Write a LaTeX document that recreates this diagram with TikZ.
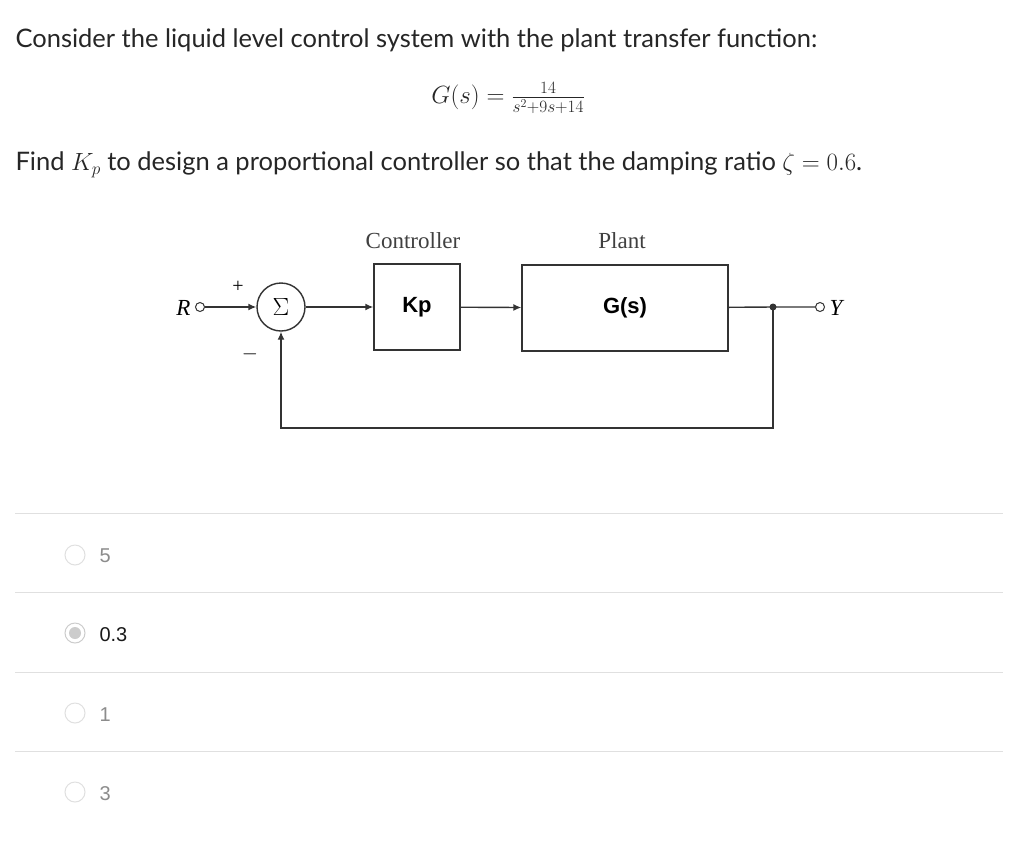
\documentclass[tikz,border=0pt]{standalone}
\usepackage{fontspec}
\setmainfont{Lato}
\newfontfamily\serifa{Liberation Serif}
\newfontfamily\sansb{Liberation Sans}
\usetikzlibrary{arrows.meta}
\begin{document}
\begin{tikzpicture}[x=1pt,y=-1pt,
  blk/.style={draw=black!80,line width=1.4pt},
  ln/.style={draw=black!80,line width=1.4pt},
  arr/.style={ln,-{Latex[length=8pt,width=7pt]}},
  term/.style={circle,draw=black!80,line width=1pt,inner sep=0pt,minimum size=9pt,fill=white},
  sep/.style={draw=black!12,line width=1pt},
  radio/.style={circle,draw=black!12,line width=1pt,inner sep=0pt,minimum size=20pt},
  opt/.style={anchor=west,font=\sansb\fontsize{20}{24}\selectfont,text=black!45}]
\useasboundingbox (0,0) rectangle (1024,849);
\fill[white] (0,0) rectangle (1024,849);
\node[anchor=west,font=\fontsize{25.5}{30}\selectfont,text=black!85] (t1) at (12,40) {Consider the liquid level control system with the plant transfer function:};
\node[font=\fontsize{26}{30}\selectfont,text=black!85] (f) at (508,98) {$G(s) = \frac{14}{s^2+9s+14}$};
\node[anchor=west,font=\fontsize{25.5}{30}\selectfont,text=black!85] (t2) at (12,165) {Find $K_p$ to design a proportional controller so that the damping ratio $\zeta = 0.6$.};
% diagram
\node[circle,blk,minimum size=48pt,inner sep=0pt,font=\fontsize{24}{26}\selectfont] (sum) at (281,307) {$\Sigma$};
\node[blk,minimum width=86pt,minimum height=86pt,font=\sansb\bfseries\fontsize{22}{26}\selectfont] (kp) at (417,307) {Kp};
\node[blk,minimum width=206pt,minimum height=86pt,font=\sansb\bfseries\fontsize{22}{26}\selectfont] (g) at (625,308) {G(s)};
\node[font=\serifa\fontsize{23}{26}\selectfont,text=black!75] (cl) at (413,241) {Controller};
\node[font=\serifa\fontsize{23}{26}\selectfont,text=black!75] (pl) at (622,241) {Plant};
\node[term] (r) at (200,307) {};
\node[anchor=east,font=\serifa\itshape\fontsize{23}{26}\selectfont] (rl) at (194,308) {R};
\node[term] (y) at (820,307) {};
\node[anchor=west,font=\serifa\itshape\fontsize{23}{26}\selectfont] (yl) at (826,308) {Y};
\coordinate (j) at (773,307);
\coordinate (b1) at (773,428);
\coordinate (b2) at (281,428);
\fill[black!80] (j) circle (3.5pt);
\node[font=\serifa\fontsize{20}{22}\selectfont] (plus) at (238,287) {+};
\node[font=\serifa\fontsize{20}{22}\selectfont] (minus) at (250,354) {$-$};
\draw[arr] (r) -- (sum);
\draw[arr] (sum) -- (kp);
\draw[arr] (kp) -- (g);
\draw[ln] (g) -- (j) -- (y);
\draw[arr] (j) -- (b1) -- (b2) -- (sum);
% options
\draw[sep] (15,513) -- (1003,513);
\draw[sep] (15,592) -- (1003,592);
\draw[sep] (15,672) -- (1003,672);
\draw[sep] (15,751) -- (1003,751);
\node[radio] (o1) at (75,555) {};
\node[radio,draw=black!20] (o2) at (75,633) {};
\fill[black!20] (o2) circle (6pt);
\node[radio] (o3) at (75,713) {};
\node[radio] (o4) at (75,792) {};
\node[opt] (l1) at (96,556) {5};
\node[opt,text=black!90] (l2) at (96,635) {0.3};
\node[opt] (l3) at (96,715) {1};
\node[opt] (l4) at (96,794) {3};
\end{tikzpicture}
\end{document}
